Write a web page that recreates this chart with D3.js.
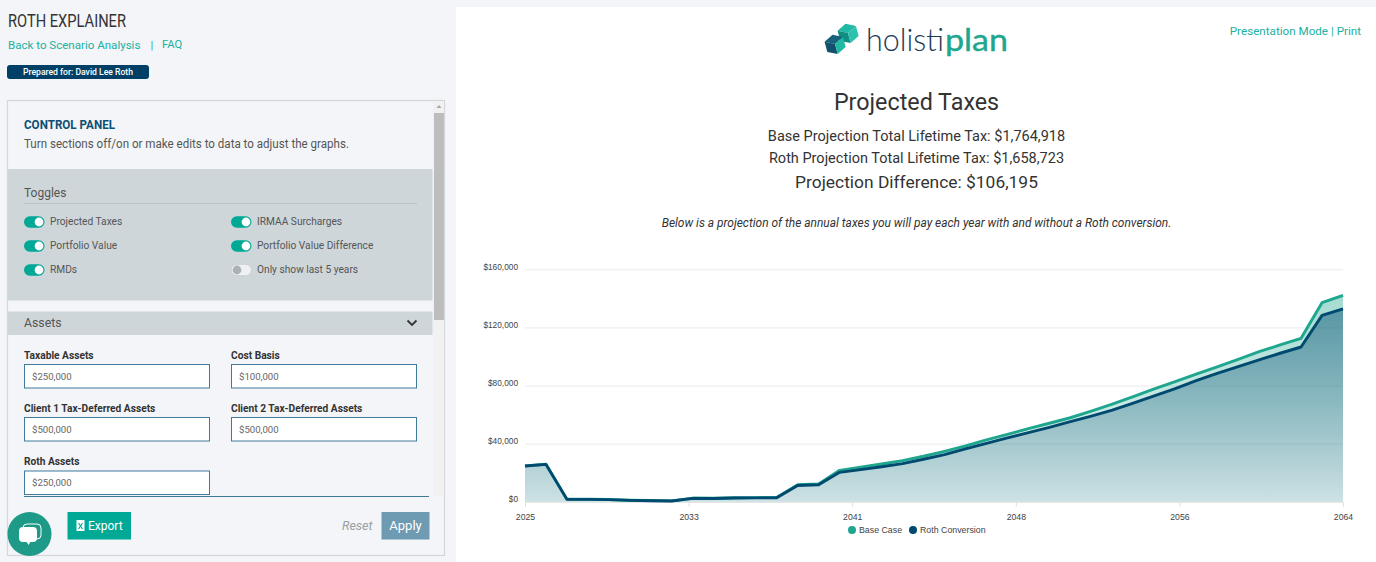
<!DOCTYPE html>
<html><head><meta charset="utf-8">
<script src="https://cdnjs.cloudflare.com/ajax/libs/d3/7.8.5/d3.min.js"></script>
<style>
html,body{margin:0;padding:0;background:#f3f5f8;overflow:hidden}
svg{display:block}
text{font-family:Roboto,sans-serif}
</style></head><body>
<svg id="page" width="1376" height="562"></svg>
<script>
const years = d3.range(2025, 2065);
const baseCase = [24700,25800,1700,1700,1500,1000,800,600,2500,2400,2700,2800,2950,11700,12200,21600,23700,25960,28250,31300,34700,38350,42500,46400,50300,54000,57800,62300,67100,72300,77600,82600,87900,92900,98000,103300,107900,112500,137000,142100];
const rothConversion = [24600,25700,1600,1600,1400,900,700,500,2300,2200,2500,2600,2750,11200,11700,20200,22100,24100,26200,29200,32400,36300,40200,43900,47500,51200,55100,58900,63000,67800,72800,77800,83300,88400,93000,97600,102200,106500,128300,132700];
const yTicks = [0,40000,80000,120000,160000];
const xTickCount = 5;
const legendLabels = ["Base Case","Roth Conversion"];
const seriesColors = ["#1fa68f","#004a70"];
const toggleLabels = [["Projected Taxes",true],["Portfolio Value",true],["RMDs",true],["IRMAA Surcharges",true],["Portfolio Value Difference",true],["Only show last 5 years",false]];
const assetFields = [["Taxable Assets","$250,000"],["Cost Basis","$100,000"],["Client 1 Tax-Deferred Assets","$500,000"],["Client 2 Tax-Deferred Assets","$500,000"],["Roth Assets","$250,000"]];
const headlines = ["Base Projection Total Lifetime Tax: $1,764,918","Roth Projection Total Lifetime Tax: $1,658,723","Projection Difference: $106,195"];

const svg = d3.select("#page");
const defs = svg.append("defs");
function T(g,x,y,s,o={}){
  const t=g.append("text").attr("x",x).attr("y",y).attr("dy","0.35em").text(s)
    .attr("font-size",o.size||12).attr("fill",o.fill||"#444");
  if(o.anchor)t.attr("text-anchor",o.anchor);
  if(o.weight)t.attr("font-weight",o.weight);
  if(o.style)t.attr("font-style",o.style);
  if(o.family)t.style("font-family",o.family);
  if(o.len)t.attr("textLength",o.len).attr("lengthAdjust","spacingAndGlyphs");
  return t;
}
function R(g,x,y,w,h,fill,o={}){
  const r=g.append("rect").attr("x",x).attr("y",y).attr("width",w).attr("height",h).attr("fill",fill);
  if(o.stroke)r.attr("stroke",o.stroke).attr("stroke-width",o.sw||1);
  if(o.rx)r.attr("rx",o.rx);
  return r;
}
// page
R(svg,0,0,1376,562,"#f3f5f8");
R(svg,456,7,920,555,"#ffffff");

// ---------- left panel
const L = svg.append("g");
T(L,8,21,"ROTH EXPLAINER",{size:18,fill:"#333",len:118,family:"'Liberation Sans Narrow',Roboto"});
T(L,8,44.5,"Back to Scenario Analysis",{size:11.55,fill:"#1bb0a0"});
T(L,150.5,44.5,"|",{size:11.5,fill:"#1bb0a0"});
T(L,162,44.5,"FAQ",{size:11.2,fill:"#1bb0a0"});
R(L,7,65,142,14,"#003f66",{rx:3});
T(L,23,71.7,"Prepared for: David Lee Roth",{size:9.5,fill:"#fff",weight:500,len:110});
R(L,7.5,100.5,437,455,"#f3f5f8",{stroke:"#d3d7da",sw:1.2});
T(L,24,124.5,"CONTROL PANEL",{size:12,fill:"#0d4f75",weight:700,len:91});
T(L,24,143.5,"Turn sections off/on or make edits to data to adjust the graphs.",{size:12,fill:"#555",len:325});
R(L,8,169,424.5,131.5,"#ced6da");
T(L,24,192.5,"Toggles",{size:12,fill:"#555"});
R(L,24,203,393,1,"#b9c3c8");
toggleLabels.forEach((d,i)=>{
  const col=i<3?0:1,row=i%3,x=col?231:24,y=222+row*24;
  R(L,x,y-5.7,20.5,11.4,d[1]?"#00a896":"#eef0f1",{rx:5.7,stroke:d[1]?null:"#c9cfd2"});
  L.append("circle").attr("cx",d[1]?x+15:x+6).attr("cy",y).attr("r",4.4).attr("fill",d[1]?"#fff":"#aab2b8");
  T(L,col?257:50,y-1,d[0],{size:10.2,fill:"#555"});
});
R(L,8,311.5,424.5,23.5,"#ced6da");
T(L,24,322.5,"Assets",{size:12.3,fill:"#555"});
L.append("path").attr("d","M407.5,320.5L412,325L416.5,320.5").attr("fill","none").attr("stroke","#333").attr("stroke-width",1.8);
assetFields.forEach((d,i)=>{
  const col=i%2,row=Math.floor(i/2),x=col?231:24,yy=[355,408,461.5][row],by=[364.5,417.5,471][row];
  T(L,x,yy,d[0],{size:10.2,fill:"#333",weight:700});
  R(L,x+.5,by,185,23.5,"#fff",{stroke:"#3f7a9b",sw:1});
  T(L,x+8,by+12,d[1],{size:9.6,fill:"#666"});
});
R(L,24,496,405,1,"#3f7a9b");
// scrollbar
R(L,433,101,11,395,"#f1f1f1");
R(L,434,113,10,207,"#bdbdbd");
L.append("path").attr("d","M436.5,108L439,105L441.5,108Z").attr("fill","#a8a8a8");
// footer
R(L,67.5,512,63.5,27.5,"#00a896");
R(L,76.5,520,8,11,"#fff");
L.append("path").attr("d","M78.5,523L82.5,529M82.5,523L78.5,529").attr("stroke","#00a896").attr("stroke-width",1.2);
T(L,88,525.5,"Export",{size:12,fill:"#fff"});
T(L,372.5,525.5,"Reset",{size:12.5,fill:"#9aa0a4",anchor:"end",style:"italic"});
R(L,381.5,512,48,27.5,"#6e9ab2");
T(L,405.5,525.5,"Apply",{size:13,fill:"#fff",anchor:"middle"});
L.append("circle").attr("cx",29.5).attr("cy",534).attr("r",22).attr("fill","#1d9a88");
R(L,23,524,18,15,"none",{stroke:"#fff",rx:4,sw:1});
R(L,19,527,18,15,"#fff",{rx:4});
L.append("path").attr("d","M26,541L28.5,545L31,541Z").attr("fill","#fff");

// ---------- header right
const H = svg.append("g");
const cube=(x,y,s,c1,c2,c3)=>{
  const g=H.append("g").attr("transform",`translate(${x},${y}) rotate(-15) scale(${s})`);
  g.append("path").attr("d","M0,-10L10,-5L0,0L-10,-5Z").attr("fill",c1);
  g.append("path").attr("d","M-10,-5L0,0L0,11L-10,6Z").attr("fill",c2);
  g.append("path").attr("d","M10,-5L0,0L0,11L10,6Z").attr("fill",c3);
};
cube(848,33,.95,"#1fb9a4","#0f8f84","#2cc3ae");
cube(835,44,.95,"#17627a","#13506d","#1fb9a4");
T(H,866,40.5,"holisti",{size:31,fill:"#1d3a54",family:"Lato,Roboto",weight:300,len:78});
T(H,945,40.5,"plan",{size:31,fill:"#1fa68f",family:"Lato,Roboto",len:63}).attr("stroke","#1fa68f").attr("stroke-width",.4);
T(H,1361,31,"Presentation Mode | Print",{size:11.65,fill:"#1bb0a0",anchor:"end"});
T(H,916.5,102,"Projected Taxes",{size:23.3,fill:"#333",anchor:"middle"});
T(H,916.5,135.5,headlines[0],{size:14.5,fill:"#333",anchor:"middle"});
T(H,916.5,158,headlines[1],{size:14.5,fill:"#333",anchor:"middle"});
T(H,916.5,181.5,headlines[2],{size:17.4,fill:"#333",anchor:"middle"});
T(H,916.5,222.5,"Below is a projection of the annual taxes you will pay each year with and without a Roth conversion.",{size:11.95,fill:"#333",anchor:"middle",style:"italic"});

// ---------- chart
const x = d3.scaleLinear().domain([2025,2064]).range([525,1343]);
const y = d3.scaleLinear().domain([0,160000]).range([501.7,269.3]);
const CF="'Liberation Sans',Arial,sans-serif";
const gridG=svg.append("g").attr("transform","translate(525,0)")
  .call(d3.axisLeft(y).tickValues(yTicks).tickSize(-818).tickPadding(7).tickFormat(d=>"$"+d3.format(",")(d)));
gridG.select(".domain").remove();
gridG.selectAll(".tick line").attr("stroke","#e9eaec");
gridG.selectAll(".tick text").attr("fill","#444").attr("font-size",8.3).attr("dy","0").style("font-family",CF);
const xG=svg.append("g").attr("transform","translate(0,502)")
  .call(d3.axisBottom(x).tickValues(d3.range(xTickCount+1).map(i=>2025+i*39/xTickCount)).tickSize(5).tickPadding(7).tickFormat(d3.format("d")));
xG.select(".domain").attr("stroke","#e4e6e8");
xG.selectAll(".tick line").attr("stroke","#dfe1e3");
xG.selectAll(".tick text").attr("fill","#444").attr("font-size",8.7).style("font-family",CF);

function grad(id,c,a,b){
  const g=defs.append("linearGradient").attr("id",id).attr("gradientUnits","userSpaceOnUse").attr("x1",0).attr("x2",0).attr("y1",y(142100)).attr("y2",y(0));
  g.append("stop").attr("offset",0).attr("stop-color",c).attr("stop-opacity",a);
  g.append("stop").attr("offset",1).attr("stop-color",c).attr("stop-opacity",b);
}
grad("gBase",seriesColors[0],.4,.1);
grad("gRoth",seriesColors[1],.5,.12);
[[baseCase,"gBase",0],[rothConversion,"gRoth",1]].forEach(([vals,id,k])=>{
  const pts=years.map((yr,i)=>[yr,vals[i]]);
  svg.append("path").datum(pts).attr("fill",`url(#${id})`)
    .attr("d",d3.area().x(d=>x(d[0])).y0(y(0)).y1(d=>y(d[1])));
});
[[baseCase,0],[rothConversion,1]].forEach(([vals,k])=>{
  const pts=years.map((yr,i)=>[yr,vals[i]]);
  svg.append("path").datum(pts).attr("fill","none").attr("stroke",seriesColors[k]).attr("stroke-width",2.9)
    .attr("stroke-linejoin","round").attr("d",d3.line().x(d=>x(d[0])).y(d=>y(d[1])));
});
const lg=svg.append("g");
[[852,859],[913,920]].forEach((p,i)=>{
  lg.append("circle").attr("cx",p[0]).attr("cy",530).attr("r",4).attr("fill",seriesColors[i]);
  T(lg,p[1],530,legendLabels[i],{size:8.8,fill:"#444",family:CF});
});
</script>
</body></html>
